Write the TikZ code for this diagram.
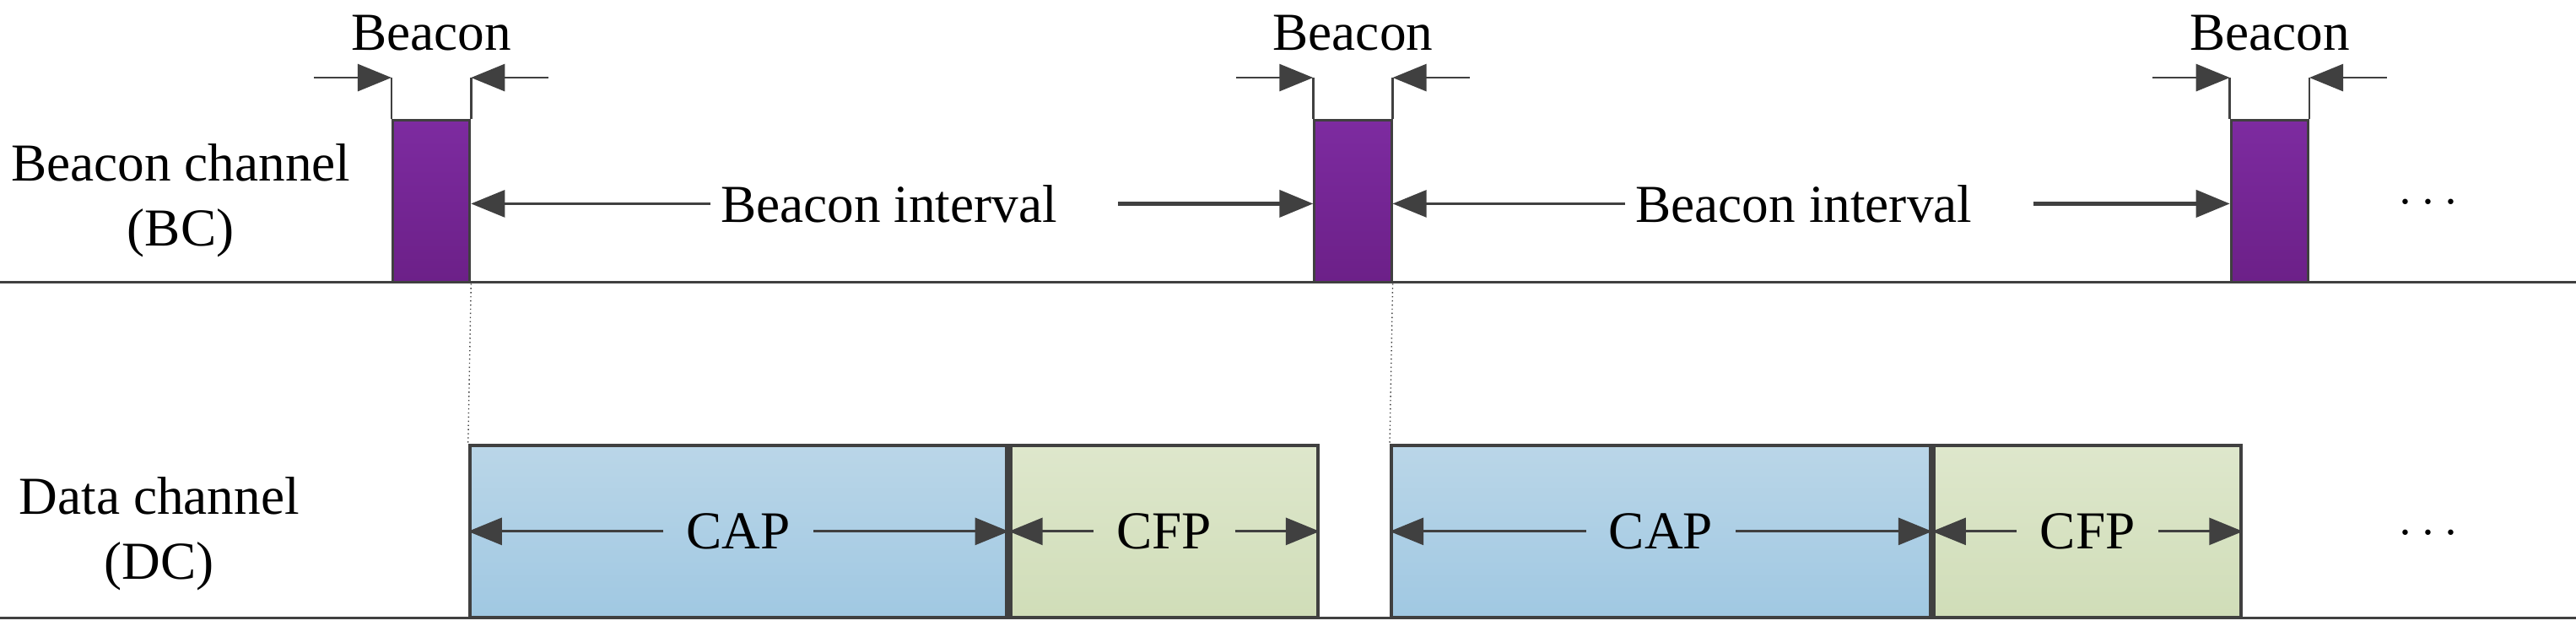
\documentclass[tikz,border=0pt]{standalone}
\usepackage{fontspec}
\setmainfont{Liberation Serif}
\usetikzlibrary{arrows.meta,positioning}
\definecolor{edge}{HTML}{404040}
\tikzstyle{beacon}=[rectangle, draw=edge, thick, top color={rgb,255:red,125;green,43;blue,160}, bottom color={rgb,255:red,108;green,32;blue,136}, minimum width=47*0.1947mm, minimum height=99*0.1947mm, inner sep=0pt]
\tikzstyle{capblock}=[rectangle, draw=edge, very thick, top color={rgb,255:red,186;green,214;blue,232}, bottom color={rgb,255:red,160;green,200;blue,226}, minimum height=105*0.1947mm, inner sep=0pt]
\tikzstyle{cfpblock}=[rectangle, draw=edge, very thick, top color={rgb,255:red,222;green,231;blue,204}, bottom color={rgb,255:red,208;green,221;blue,184}, minimum height=105*0.1947mm, inner sep=0pt]
\tikzstyle{tip}=[-{Triangle[length=4mm,width=3.2mm]}, edge, thick]
\tikzstyle{bigtip}=[-{Triangle[length=4mm,width=3.2mm]}, edge, very thick]
\begin{document}
\begin{tikzpicture}[x=0.1947mm, y=-0.1947mm, every node/.style={font=\fontsize{18}{22}\selectfont}]
\useasboundingbox (0,0) rectangle (1568,380.6);

\draw[edge, thick] (0,172) -- (1568,172);
\draw[edge, thick] (0,376) -- (1568,376);

\node[align=center] (bc) at (110,122) {Beacon channel\\(BC)};
\node[align=center] (dc) at (97,325) {Data channel\\(DC)};

\foreach \i/\x in {1/262.5, 2/823.5, 3/1381.5}{
  \node[beacon] (b\i) at (\x,122.5) {};
  \node (bt\i) at (\x,20) {Beacon};
  \draw[edge, thick] (b\i.north west) -- ++(0,-25) coordinate (bl\i);
  \draw[edge, thick] (b\i.north east) -- ++(0,-25) coordinate (br\i);
  \draw[tip] ([xshift=-47*0.1947mm]bl\i) -- (bl\i);
  \draw[tip] ([xshift=47*0.1947mm]br\i) -- (br\i);
}

\node (bi1) at (541,124) {Beacon interval};
\node (bi2) at (1098,124) {Beacon interval};
\draw[tip] (bi1.west) -- (b1.east |- bi1);
\draw[bigtip] ([xshift=6mm]bi1.east) -- (b2.west |- bi1);
\draw[tip] (bi2.west) -- (b2.east |- bi2);
\draw[bigtip] ([xshift=6mm]bi2.east) -- (b3.west |- bi2);

\node[capblock, minimum width=327*0.1947mm] (cap1) at (449.5,323.5) {};
\node[cfpblock, minimum width=187*0.1947mm, right=0pt of cap1] (cfp1) {};
\node[capblock, minimum width=328*0.1947mm] (cap2) at (1011,323.5) {};
\node[cfpblock, minimum width=187*0.1947mm, right=0pt of cap2] (cfp2) {};

\foreach \n/\t in {cap1/CAP, cfp1/CFP, cap2/CAP, cfp2/CFP}{
  \node (\n-t) at (\n) {\t};
  \draw[tip] (\n-t.west) ++(-1.5mm,0) -- (\n.west |- \n-t);
  \draw[tip] (\n-t.east) ++(1.5mm,0) -- (\n.east |- \n-t);
}

\draw[densely dotted, edge] (b1.south east) -- (cap1.north west);
\draw[densely dotted, edge] (b2.south east) -- (cap2.north west);

\node (dots1) at (1478,124) {$\cdots$};
\node (dots2) at (1478,325) {$\cdots$};
\end{tikzpicture}
\end{document}
